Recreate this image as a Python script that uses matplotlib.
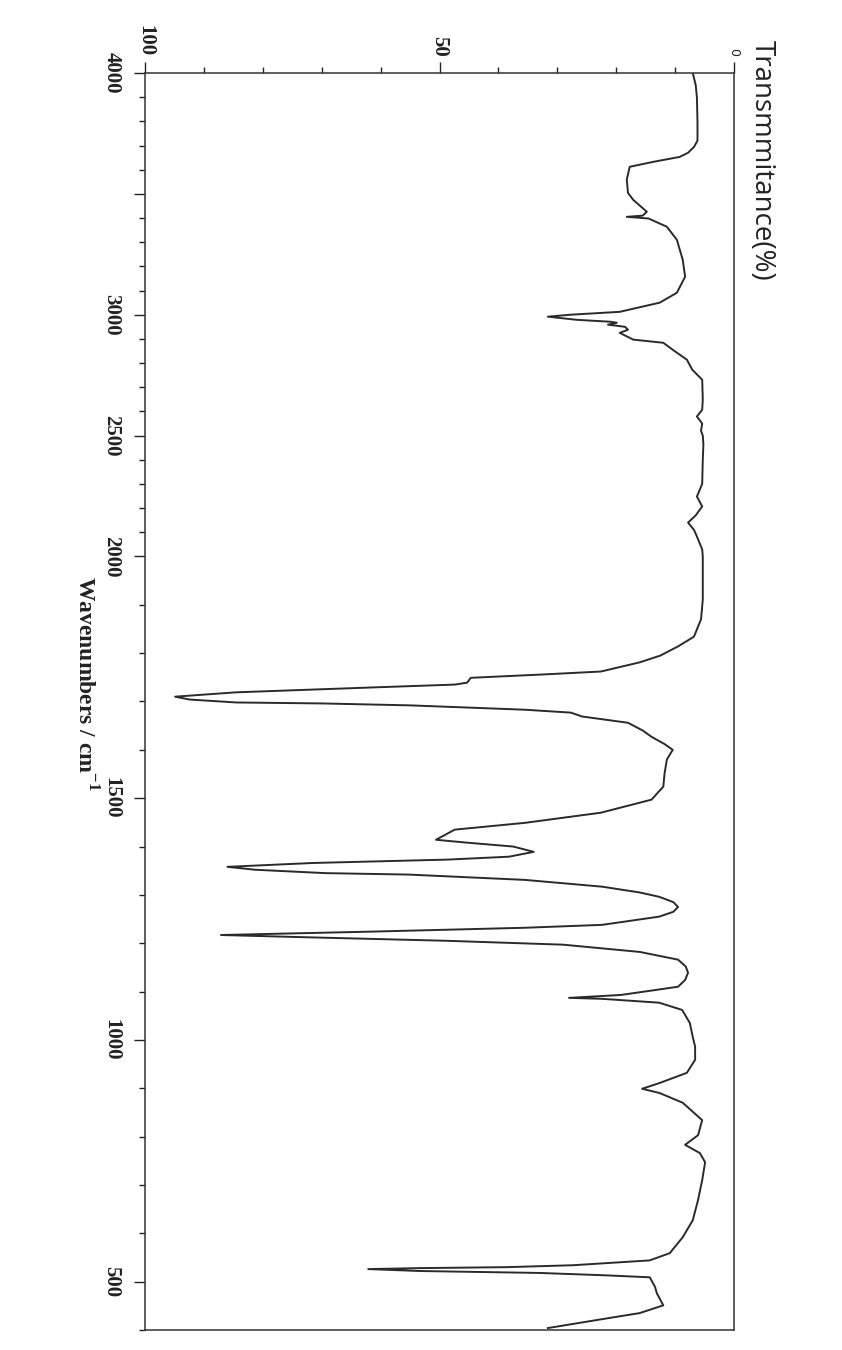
import numpy as np
import matplotlib
matplotlib.use("Agg")
import matplotlib.pyplot as plt
from matplotlib.ticker import MultipleLocator, FixedLocator

# IR spectrum (wavenumber cm-1, transmittance %)
wavenumber = [4000, 3950, 3900, 3800, 3720, 3694, 3670, 3653, 3632, 3612,
              3560, 3504, 3475, 3426, 3410, 3405, 3398, 3364, 3310, 3227,
              3157, 3091, 3050, 3012, 3000, 2992, 2979, 2971, 2967, 2959,
              2950, 2938, 2925, 2897, 2884, 2855, 2814, 2773, 2731, 2650,
              2607, 2579, 2550, 2520, 2500, 2463, 2400, 2300, 2248, 2207,
              2170, 2140, 2110, 2083, 2029, 2000, 1911, 1870, 1834, 1814,
              1795, 1781, 1762, 1756, 1749, 1739, 1735, 1729, 1719, 1710,
              1704, 1698, 1696, 1692, 1687, 1683, 1677, 1669, 1656, 1640,
              1627, 1612, 1600, 1580, 1550, 1524, 1497, 1470, 1449, 1435,
              1414, 1408, 1400, 1389, 1379, 1373, 1366, 1358, 1352, 1345,
              1342, 1331, 1317, 1305, 1296, 1285, 1275, 1265, 1255, 1238,
              1232, 1224, 1217, 1213, 1205, 1197, 1182, 1166, 1152, 1139,
              1124, 1110, 1093, 1087, 1085, 1077, 1062, 1035, 1006, 986,
              959, 932, 911, 899, 890, 870, 834, 803, 783, 766,
              747, 710, 669, 627, 592, 559, 544, 534, 530, 528,
              526, 522, 518, 513, 509, 489, 476, 451, 435, 424,
              404]
transmittance = [7.0, 6.5, 6.3, 6.2, 6.2, 6.8, 7.8, 9.2, 13.8, 17.7,
                 18.2, 18.0, 17.1, 14.8, 15.5, 18.2, 14.5, 11.4, 9.7, 8.7,
                 8.3, 9.7, 12.6, 19.4, 27.8, 31.6, 26.7, 21.0, 19.9, 21.4,
                 18.5, 18.0, 19.4, 17.1, 12.0, 10.4, 8.0, 7.1, 5.4, 5.3,
                 5.4, 6.3, 5.4, 5.6, 5.3, 5.2, 5.3, 5.4, 6.3, 5.4,
                 6.5, 7.8, 6.8, 6.3, 5.4, 5.3, 5.3, 5.6, 6.8, 9.5,
                 12.5, 16.0, 22.6, 32.3, 44.7, 45.3, 47.4, 61.6, 84.5, 94.9,
                 92.4, 84.5, 70.0, 55.0, 44.0, 35.5, 27.7, 25.8, 18.0, 15.5,
                 14.0, 11.8, 10.4, 11.4, 11.8, 12.0, 14.0, 22.6, 35.5, 47.4,
                 50.6, 45.3, 37.5, 34.0, 38.2, 48.6, 71.5, 86.0, 81.3, 69.4,
                 55.2, 35.5, 22.4, 16.0, 12.7, 10.3, 9.5, 10.3, 12.7, 22.4,
                 35.5, 61.6, 87.1, 74.7, 48.6, 29.0, 16.0, 9.5, 8.2, 7.8,
                 8.3, 9.5, 19.2, 28.0, 22.4, 12.7, 8.8, 7.5, 7.0, 6.6,
                 6.6, 8.0, 12.6, 15.6, 12.6, 8.7, 5.4, 6.1, 8.3, 5.8,
                 4.9, 5.4, 6.1, 7.0, 8.7, 10.9, 14.3, 27.3, 38.5, 53.3,
                 62.1, 53.3, 33.0, 21.6, 14.3, 13.4, 13.1, 12.0, 16.0, 21.6,
                 31.6]

wn_ticks = [4000, 3500, 3000, 2500, 2000, 1500, 1000, 500]
wn_labels = ["4000", "", "3000", "2500", "2000", "1500", "1000", "500"]
t_ticks = [100, 50, 0]
t_labels = ["100", "50", "0"]

plt.rcParams["mathtext.fontset"] = "custom"
plt.rcParams["mathtext.bf"] = "Liberation Serif:bold"
plt.rcParams["mathtext.rm"] = "Liberation Serif:bold"


# wavenumber axis is compressed by half above 2000 cm-1
def fwd(w):
    w = np.asarray(w, dtype=float)
    return np.where(w > 2000, 2000 + (w - 2000) / 2.0, w)


def inv(v):
    v = np.asarray(v, dtype=float)
    return np.where(v > 2000, 2000 + (v - 2000) * 2.0, v)


fig = plt.figure(figsize=(8.42, 13.5), dpi=100)
ax = fig.add_axes([145 / 842, 1 - 1330 / 1350, (734 - 145) / 842, (1330 - 73) / 1350])

ax.plot(transmittance, wavenumber, color="#2a2a2a", lw=1.4)

ax.set_yscale("function", functions=(fwd, inv))
ax.set_ylim(400, 4000)
ax.set_xlim(100, 0)

ax.yaxis.set_major_locator(FixedLocator(wn_ticks))
ax.set_yticklabels(wn_labels)
ax.yaxis.set_minor_locator(MultipleLocator(100))
ax.xaxis.set_major_locator(FixedLocator(t_ticks))
ax.set_xticklabels(t_labels)
ax.xaxis.set_minor_locator(MultipleLocator(10))

ax.xaxis.tick_top()
ax.tick_params(axis="both", which="both", direction="out", color="#222222", width=1.0)
ax.tick_params(axis="both", which="major", length=8)
ax.tick_params(axis="both", which="minor", length=4)
ax.tick_params(axis="y", labelrotation=-90, pad=9)
ax.tick_params(axis="x", labelrotation=-90, pad=4)

for lab in ax.get_yticklabels() + ax.get_xticklabels():
    lab.set_fontfamily("Liberation Serif")
    lab.set_fontweight("bold")
    lab.set_fontsize(15)
    lab.set_color("#222222")
for lab in ax.get_yticklabels():
    lab.set_horizontalalignment("right")
    lab.set_verticalalignment("center")
for lab in ax.get_xticklabels():
    lab.set_horizontalalignment("center")
    lab.set_verticalalignment("bottom")
    if lab.get_text() == "0":
        lab.set_fontfamily("DejaVu Sans")
        lab.set_fontweight("normal")
        lab.set_fontsize(9)

for sp in ax.spines.values():
    sp.set_linewidth(1.1)
    sp.set_color("#333333")

fig.text(85 / 842, 1 - 683 / 1350, r"Wavenumbers / cm$^{\mathrm{-1}}$",
         rotation=-90, ha="center", va="center", fontsize=17,
         fontfamily="Liberation Serif", fontweight="bold", color="#222222")

fig.text(762 / 842, 1 - 160 / 1350, "Transmmitance(%)", rotation=-90,
         ha="center", va="center", fontsize=20, fontfamily="Open Sans",
         color="#222222")

fig.savefig("out.png", dpi=100)
